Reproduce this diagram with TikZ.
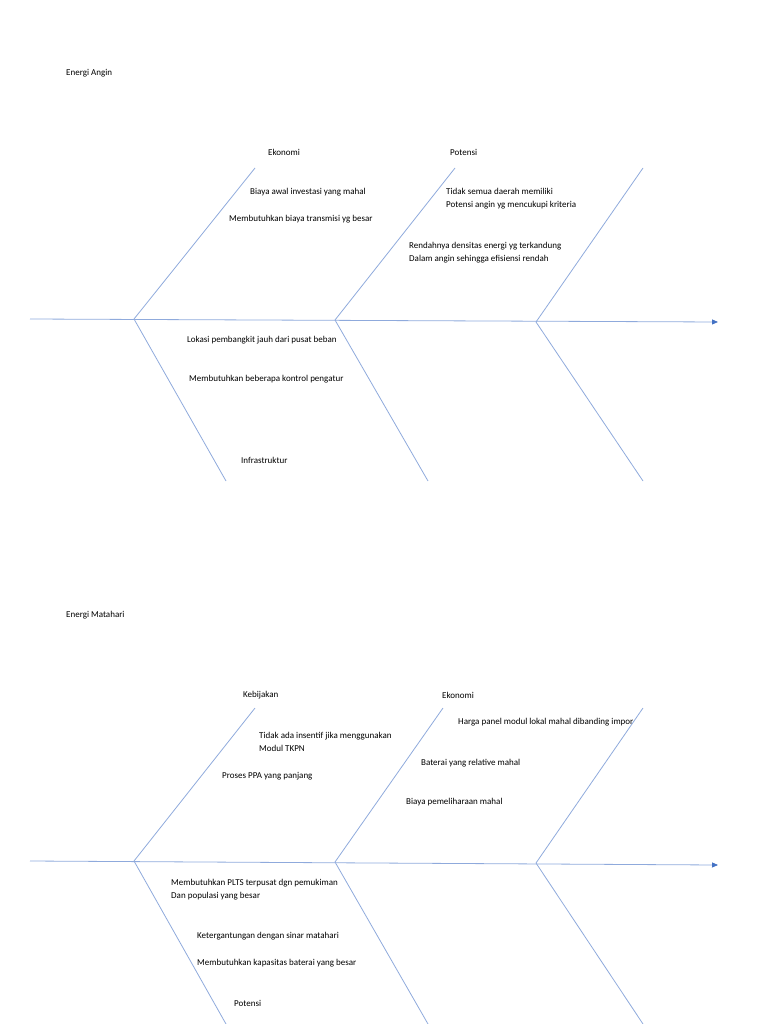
\documentclass[tikz,border=0pt]{standalone}
\usepackage{fontspec}
\setmainfont{Carlito}
\usetikzlibrary{arrows.meta}
\definecolor{bone}{RGB}{143,170,220}
\definecolor{tipc}{RGB}{68,114,196}
\begin{document}
\begin{tikzpicture}[x=1pt,y=-1pt,
  lbl/.style={anchor=west,inner sep=0pt,font=\fontsize{9}{13}\selectfont,align=left},
  ln/.style={draw=bone,line width=0.8pt}]
\useasboundingbox (0,0) rectangle (768,1024);
% top diagram
\coordinate (s1) at (30,319); \coordinate (e1) at (718,322);
\coordinate (a1) at (134,319); \coordinate (b1) at (335,320); \coordinate (c1) at (536,322);
\draw[ln,-{Triangle[length=6pt,width=5pt,fill=tipc,color=tipc]}] (s1) -- (e1);
\coordinate (a1u) at (255,168); \coordinate (b1u) at (455,168); \coordinate (c1u) at (643,168);
\coordinate (a1d) at (226,481); \coordinate (b1d) at (428,481); \coordinate (c1d) at (643,481);
\draw[ln] (a1)--(a1u) (b1)--(b1u) (c1)--(c1u) (a1)--(a1d) (b1)--(b1d) (c1)--(c1d);
\node[lbl] (t1) at (66,73) {Energi Angin};
\node[lbl] (k1) at (268,152) {Ekonomi};
\node[lbl] (k2) at (450,152) {Potensi};
\node[lbl] (n1) at (250,192) {Biaya awal investasi yang mahal};
\node[lbl] (n2) at (229,219) {Membutuhkan biaya transmisi yg besar};
\node[lbl] (n3) at (446,198.5) {Tidak semua daerah memiliki\\Potensi angin yg mencukupi kriteria};
\node[lbl] (n4) at (409,252.5) {Rendahnya densitas energi yg terkandung\\Dalam angin sehingga efisiensi rendah};
\node[lbl] (n5) at (187,340) {Lokasi pembangkit jauh dari pusat beban};
\node[lbl] (n6) at (189,379) {Membutuhkan beberapa kontrol pengatur};
\node[lbl] (n7) at (241,460) {Infrastruktur};
% bottom diagram
\coordinate (s2) at (30,861); \coordinate (e2) at (718,865);
\coordinate (a2) at (134,861); \coordinate (b2) at (335,862); \coordinate (c2) at (536,863);
\draw[ln,-{Triangle[length=6pt,width=5pt,fill=tipc,color=tipc]}] (s2) -- (e2);
\coordinate (a2u) at (255,708); \coordinate (b2u) at (443,708); \coordinate (c2u) at (643,708);
\coordinate (a2d) at (226,1024); \coordinate (b2d) at (428,1024); \coordinate (c2d) at (643,1024);
\draw[ln] (a2)--(a2u) (b2)--(b2u) (c2)--(c2u) (a2)--(a2d) (b2)--(b2d) (c2)--(c2d);
\node[lbl] (t2) at (66,615) {Energi Matahari};
\node[lbl] (k3) at (243,695) {Kebijakan};
\node[lbl] (k4) at (442,695) {Ekonomi};
\node[lbl] (m1) at (458,722) {Harga panel modul lokal mahal dibanding impor};
\node[lbl] (m2) at (259,741.5) {Tidak ada insentif jika menggunakan\\Modul TKPN};
\node[lbl] (m3) at (222,776) {Proses PPA yang panjang};
\node[lbl] (m4) at (421,763) {Baterai yang relative mahal};
\node[lbl] (m5) at (406,802) {Biaya pemeliharaan mahal};
\node[lbl] (m6) at (171,889.5) {Membutuhkan PLTS terpusat dgn pemukiman\\Dan populasi yang besar};
\node[lbl] (m7) at (197,936) {Ketergantungan dengan sinar matahari};
\node[lbl] (m8) at (197,963) {Membutuhkan kapasitas baterai yang besar};
\node[lbl] (m9) at (234,1003) {Potensi};
\end{tikzpicture}
\end{document}
